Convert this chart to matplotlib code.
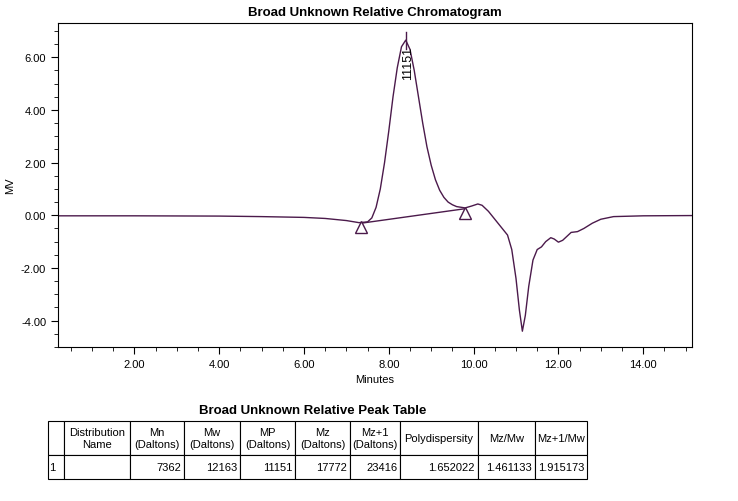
import matplotlib.pyplot as plt
from matplotlib.ticker import MultipleLocator, FormatStrFormatter

plt.rcParams['font.family'] = ['Liberation Sans', 'DejaVu Sans']

# chromatogram trace
minutes = [0.2, 2, 4, 5, 6, 6.5, 7, 7.3, 7.5, 7.6, 7.7, 7.8, 7.9, 8.0, 8.1, 8.2, 8.3, 8.4,
           8.5, 8.6, 8.7, 8.8, 8.9, 9.0, 9.1, 9.2, 9.3, 9.4, 9.5, 9.6, 9.8, 9.95, 10.1,
           10.2, 10.35, 10.5, 10.65, 10.8, 10.9, 11.0, 11.08, 11.15, 11.22, 11.3, 11.4,
           11.5, 11.6, 11.7, 11.82, 11.9, 12.0, 12.1, 12.2, 12.3, 12.45, 12.6, 12.8, 13.0,
           13.3, 14.0, 15.15]
mv = [-0.02, -0.02, -0.03, -0.05, -0.08, -0.12, -0.2, -0.28, -0.25, -0.1, 0.3, 1.0, 2.0,
      3.2, 4.5, 5.6, 6.4, 6.65, 6.3, 5.5, 4.5, 3.5, 2.6, 1.9, 1.35, 0.95, 0.68, 0.5, 0.4,
      0.33, 0.28, 0.35, 0.43, 0.38, 0.15, -0.15, -0.45, -0.75, -1.3, -2.4, -3.6, -4.4,
      -3.8, -2.7, -1.7, -1.3, -1.2, -1.0, -0.85, -0.9, -1.02, -0.95, -0.8, -0.65, -0.62,
      -0.5, -0.3, -0.15, -0.05, -0.02, -0.01]

baseline_x = [7.35, 9.8]
baseline_y = [-0.3, 0.25]
peak_x = 8.4
peak_label = "11151"

col_labels = ["", "Distribution\nName", "Mn\n(Daltons)", "Mw\n(Daltons)", "MP\n(Daltons)",
              "Mz\n(Daltons)", "Mz+1\n(Daltons)", "Polydispersity", "Mz/Mw", "Mz+1/Mw"]
row_values = ["1", "", "7362", "12163", "11151", "17772", "23416", "1.652022", "1.461133", "1.915173"]
col_widths = [16, 66, 54, 56, 55, 55, 50, 78, 57, 52]

color = "#4b1a4b"
fig = plt.figure(figsize=(7.38, 5.02), dpi=100)
ax = fig.add_axes([58 / 738, 1 - 348 / 502, 634 / 738, 324 / 502])
ax.plot(minutes, mv, color=color, lw=1)
ax.plot(baseline_x, baseline_y, color=color, lw=1)
# triangles hang just under the baseline ends
ax.plot(baseline_x, [y - 0.15 for y in baseline_y], ls="none", marker="^", ms=8,
        mfc="white", mec=color, mew=1)
ax.plot([peak_x, peak_x], [6.3, 6.95], color=color, lw=1)
ax.text(peak_x + 0.06, 6.45, peak_label, rotation=90, ha="center", va="top", fontsize=9)

ax.set_xlim(0.2, 15.15)
ax.set_ylim(-5.0, 7.3)
ax.xaxis.set_major_locator(MultipleLocator(2))
ax.xaxis.set_minor_locator(MultipleLocator(0.5))
ax.yaxis.set_major_locator(MultipleLocator(2))
ax.yaxis.set_minor_locator(MultipleLocator(0.5))
ax.xaxis.set_major_formatter(FormatStrFormatter("%.2f"))
ax.yaxis.set_major_formatter(FormatStrFormatter("%.2f"))
ax.tick_params(labelsize=8, length=5)
ax.tick_params(which="minor", length=3)
ax.set_xlabel("Minutes", fontsize=8)
ax.set_ylabel("MV", fontsize=8)
ax.set_title("Broad Unknown Relative Chromatogram", fontsize=9.5, fontweight="bold")

# peak table
tax = fig.add_axes([48 / 738, 1 - 480 / 502, 539 / 738, 58 / 502])
tax.axis("off")
total = sum(col_widths)
table = tax.table(cellText=[row_values], colLabels=col_labels,
                  colWidths=[w / total for w in col_widths], bbox=[0, 0, 1, 1])
table.auto_set_font_size(False)
table.set_fontsize(8)
for (r, c), cell in table.get_celld().items():
    cell.set_linewidth(0.8)
    if r == 0:
        cell.set_height(34)
        cell.get_text().set_ha("center")
    else:
        cell.set_height(24)
        cell.get_text().set_ha("left" if c == 0 else "right")
        cell.PAD = 0.05
fig.text(313 / 738, 1 - 411 / 502, "Broad Unknown Relative Peak Table",
         ha="center", va="center", fontsize=9.5, fontweight="bold")

fig.savefig("out.png")
